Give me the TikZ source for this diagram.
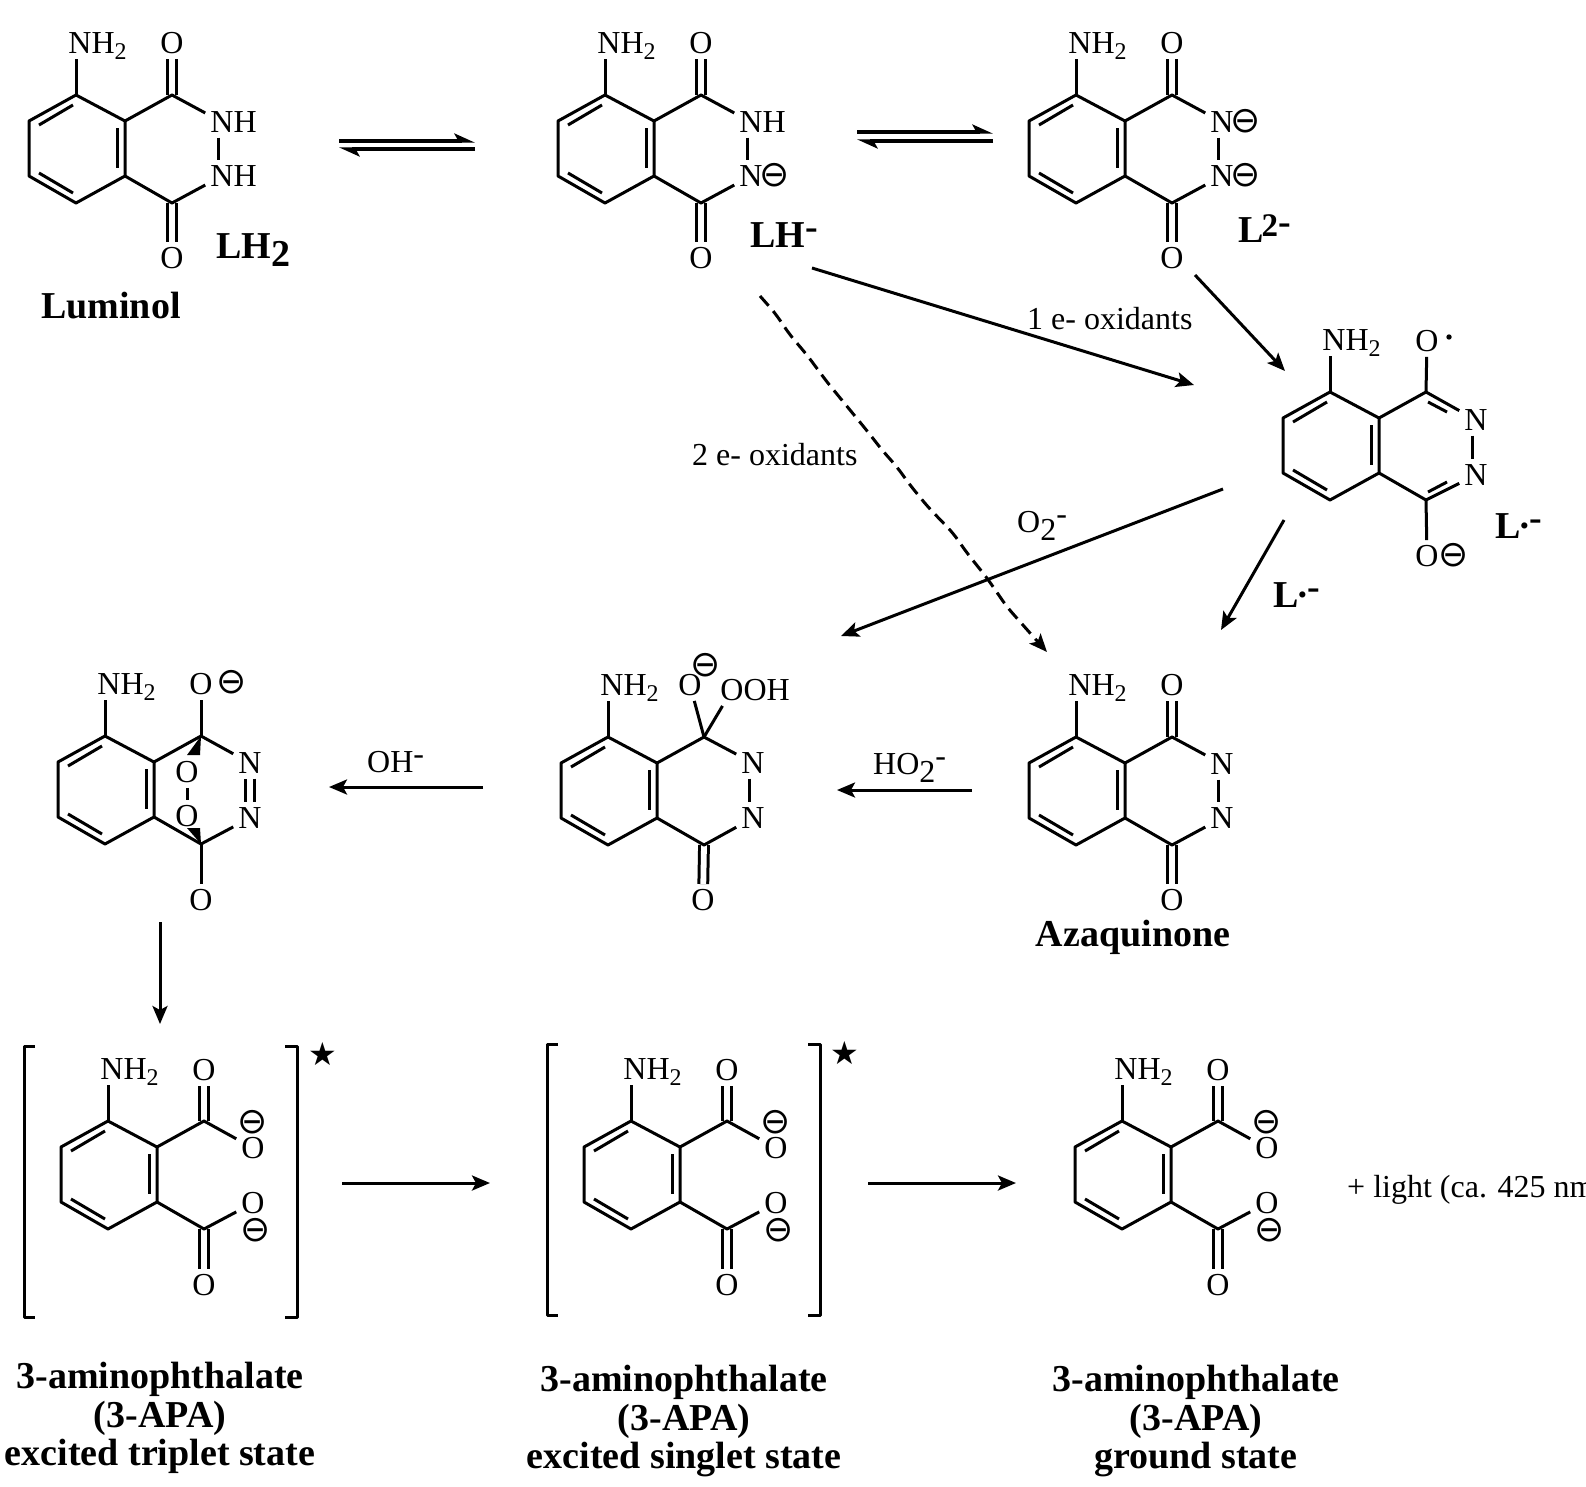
\documentclass[tikz,border=0pt]{standalone}
\usepackage{fontspec}
\setmainfont{Liberation Serif}
\newfontfamily\symf{DejaVu Sans}
\usetikzlibrary{arrows.meta}

\newcommand{\atomfont}{\fontsize{32}{36}\selectfont}
\newcommand{\labfont}{\bfseries\fontsize{38}{38.5}\selectfont}
\newcommand{\atail}[1]{\rlap{\smash{#1}}}
\newcommand{\negc}{{\symf\fontsize{36}{36}\selectfont ⊖}}
\newcommand{\subtwo}{\raisebox{-6pt}{\fontsize{24}{24}\selectfont 2}}
\newcommand{\lowtwo}{\raisebox{-8pt}{2}}
\newcommand{\upm}{\raisebox{8pt}{-}}

\tikzset{
	atom/.style = {inner sep=5pt, font=\atomfont},
	chg/.style = {inner sep=0pt, font=\atomfont},
	txt/.style = {inner sep=0pt, anchor=base west, font=\atomfont},
	lab/.style = {inner sep=0pt, anchor=base west, font=\labfont},
	state/.style = {inner sep=0pt, align=center, font=\labfont},
	bond/.style = {line width=3pt, line join=round},
	dbl/.style = {line width=3pt, double, double distance=5.8pt},
	rxn/.style = {line width=3pt, -{Stealth[length=18pt, width=15pt, inset=4pt]}},
	eqm/.style = {line width=3.2pt, -{Stealth[harpoon, length=17pt, width=15pt, inset=4pt]}},
}

% ring with the amino group, top corner at (#2,#3)
\newcommand{\benzring}[3]{
	\begin{scope}[shift={(#2,#3)}]
		\coordinate (#1-a) at (0,0);
		\coordinate (#1-b) at (-47,26);
		\coordinate (#1-c) at (-47,81);
		\coordinate (#1-d) at (0,108);
		\coordinate (#1-e) at (49,81);
		\coordinate (#1-f) at (49,26);
		\coordinate (#1-c1) at (96,0);
		\coordinate (#1-c2) at (96,108);
		\node[atom] (#1-nh) at (4,-52) {N\atail{H\subtwo}};
		\draw[bond] (#1-a) -- (#1-b) -- (#1-c) -- (#1-d) -- (#1-e) -- (#1-f) -- cycle;
		\draw[bond] (-37,30) -- (-3,10);
		\draw[bond] (-37,78) -- (-3,98);
		\draw[bond] (41,33) -- (41,73);
		\draw[bond] (#1-a) -- (#1-a |- #1-nh.south);
	\end{scope}
}

% two C=O and the N-N bridge
\newcommand{\dione}[5]{
	\benzring{#1}{#2}{#3}
	\begin{scope}[shift={(#2,#3)}]
		\node[atom] (#1-o1) at (96,-52) {O};
		\node[atom] (#1-o2) at (96,163) {O};
		\node[atom] (#1-n1) at (146,27) {N\atail{#4}};
		\node[atom] (#1-n2) at (146,81) {N\atail{#5}};
		\draw[dbl] (#1-c1) -- (#1-o1);
		\draw[dbl] (#1-c2) -- (#1-o2);
		\draw[bond] (#1-f) -- (#1-c1) -- (#1-n1);
		\draw[bond] (#1-e) -- (#1-c2) -- (#1-n2);
		\draw[bond] ([xshift=-4pt]#1-n1.south) -- ([xshift=-4pt]#1-n2.north);
	\end{scope}
}

% phthalate dianion
\newcommand{\apa}[3]{
	\benzring{#1}{#2}{#3}
	\begin{scope}[shift={(#2,#3)}]
		\node[atom] (#1-o1) at (96,-51) {O};
		\node[atom] (#1-o2) at (96,164) {O};
		\node[atom] (#1-o3) at (145,27) {O};
		\node[atom] (#1-o4) at (145,82) {O};
		\node[chg] (#1-q3) at (145,1) {\negc};
		\node[chg] (#1-q4) at (148,109) {\negc};
		\draw[dbl] (#1-c1) -- (#1-o1);
		\draw[dbl] (#1-c2) -- (#1-o2);
		\draw[bond] (#1-f) -- (#1-c1) -- (#1-o3);
		\draw[bond] (#1-e) -- (#1-c2) -- (#1-o4);
	\end{scope}
}

\newcommand{\brackets}[4]{
	\draw[bond] (#1+11,#3) -- (#1,#3) -- (#1,#4) -- (#1+11,#4);
	\draw[bond] (#2-12,#3) -- (#2,#3) -- (#2,#4) -- (#2-12,#4);
}

\begin{document}
\begin{tikzpicture}[x=1pt, y=-1pt]
	\clip (0,0) rectangle (1586,1486);

	% top row
	\dione{lum}{76}{95}{H}{H}
	\dione{lhm}{605}{95}{H}{\kern-3pt\negc}
	\dione{ldm}{1076}{95}{\kern-3pt\negc}{\kern-3pt\negc}
	\node[lab] (lumname) at (41,318) {Luminol};
	\node[lab] (lhtwo) at (216,258) {LH\lowtwo};
	\node[lab] (lhminus) at (750,247) {LH\upm};
	\node[lab] (ltwominus) at (1238,242) {L\kern-2pt\raisebox{6pt}{\fontsize{33}{33}\selectfont 2}\upm};

	% radical anion
	\benzring{rad}{1330}{392}
	\begin{scope}[shift={(1330,392)}]
		\node[atom] (rad-o1) at (97,-51) {O};
		\node[atom] (rad-o2) at (97,164) {O\atail{\negc}};
		\node[atom] (rad-n1) at (146,28) {N};
		\node[atom] (rad-n2) at (146,83) {N};
		\node[circle, fill, inner sep=1.9pt] (rad-dot) at (119,-55) {};
		\draw[bond] (rad-f) -- (rad-c1) -- (rad-n1);
		\draw[bond] (rad-e) -- (rad-c2) -- (rad-n2);
		\draw[bond] (rad-c1) -- (rad-o1);
		\draw[bond] (rad-c2) -- (rad-o2);
		\draw[bond] (98,10) -- (117,20);
		\draw[bond] (98,100) -- (117,90);
		\draw[bond] ([xshift=-4pt]rad-n1.south) -- ([xshift=-4pt]rad-n2.north);
	\end{scope}
	\node[lab] (lrad) at (1495,538) {L\kern-2pt·\kern-2pt\upm};
	\node[lab] (lradb) at (1273,607) {L\kern-2pt·\kern-2pt\upm};

	% middle row
	\dione{aza}{1076}{737}{}{}
	\node[lab, anchor=base] (azaname) at (1133,946) {Azaquinone};

	\benzring{hyd}{608}{737}
	\begin{scope}[shift={(608,737)}]
		\node[atom] (hyd-o1) at (82,-52) {O};
		\node[chg] (hyd-q1) at (98,-72) {\negc};
		\node[atom] (hyd-o3) at (124,-47) {O\atail{OH}};
		\node[atom] (hyd-o2) at (95,163) {O};
		\node[atom] (hyd-n1) at (145,26) {N};
		\node[atom] (hyd-n2) at (145,81) {N};
		\draw[dbl] (hyd-c2) -- (hyd-o2);
		\draw[bond] (hyd-f) -- (hyd-c1) -- (hyd-n1);
		\draw[bond] (hyd-e) -- (hyd-c2) -- (hyd-n2);
		\draw[bond] (hyd-c1) -- (hyd-o1);
		\draw[bond] (hyd-c1) -- (hyd-o3);
		\draw[bond] ([xshift=-4pt]hyd-n1.south) -- ([xshift=-4pt]hyd-n2.north);
	\end{scope}

	\benzring{brg}{105}{736}
	\begin{scope}[shift={(105,736)}]
		\node[atom] (brg-o1) at (96,-52) {O};
		\node[chg] (brg-q1) at (127,-54) {\negc};
		\node[atom] (brg-o2) at (96,164) {O};
		\node[atom] (brg-o3) at (82,36) {O};
		\node[atom] (brg-o4) at (82,80) {O};
		\node[atom] (brg-n1) at (145,27) {N};
		\node[atom] (brg-n2) at (145,82) {N};
		\draw[dbl] (brg-n1) -- (brg-n2);
		\draw[bond] (brg-f) -- (brg-c1) -- (brg-n1);
		\draw[bond] (brg-e) -- (brg-c2) -- (brg-n2);
		\draw[bond] (brg-c1) -- (brg-o1);
		\draw[bond] (brg-c2) -- (brg-o2);
		\draw[bond] (brg-o3) -- (brg-o4);
		\fill (brg-c1) -- (82,19) -- (95,19) -- cycle;
		\fill (brg-c2) -- (82,92) -- (95,92) -- cycle;
	\end{scope}

	% bottom row
	\apa{tri}{108}{1121}
	\apa{sng}{631}{1121}
	\apa{gnd}{1122}{1121}
	\brackets{24}{297}{1046}{1317}
	\brackets{547}{820}{1044}{1315}
	\node[chg] (tristar) at (323,1054) {\symf ★};
	\node[chg] (sngstar) at (845,1053) {\symf ★};
	\node[state] (triname) at (160,1418) {3-aminophthalate\\(3-APA)\\excited triplet state};
	\node[state] (sngname) at (684,1421) {3-aminophthalate\\(3-APA)\\excited singlet state};
	\node[state] (gndname) at (1196,1421) {3-aminophthalate\\(3-APA)\\ground state};
	\node[txt] (light) at (1347,1197) {+ light (ca. 425 nm)};

	% arrow ends
	\coordinate (eqa-l) at (339,141);
	\coordinate (eqa-r) at (475,141);
	\coordinate (eqb-l) at (339,149);
	\coordinate (eqb-r) at (475,149);
	\coordinate (eqc-l) at (857,132);
	\coordinate (eqc-r) at (993,132);
	\coordinate (eqd-l) at (857,141);
	\coordinate (eqd-r) at (993,141);
	\coordinate (one-a) at (812,268);
	\coordinate (one-b) at (1194,385);
	\coordinate (ldm-a) at (1195,275);
	\coordinate (ldm-b) at (1285,371);
	\coordinate (two-a) at (760,296);
	\coordinate (two-b) at (1047,652);
	\coordinate (sup-a) at (1223,489);
	\coordinate (sup-b) at (841,636);
	\coordinate (rad-a) at (1284,520);
	\coordinate (rad-b) at (1221,630);
	\coordinate (hoo-a) at (972,790);
	\coordinate (hoo-b) at (837,790);
	\coordinate (ohm-a) at (483,787);
	\coordinate (ohm-b) at (329,787);
	\coordinate (dwn-a) at (160,922);
	\coordinate (dwn-b) at (160,1024);
	\coordinate (exa-a) at (342,1183);
	\coordinate (exa-b) at (490,1183);
	\coordinate (exb-a) at (868,1183);
	\coordinate (exb-b) at (1016,1183);

	\draw[eqm] (eqa-l) -- (eqa-r);
	\draw[eqm] (eqb-r) -- (eqb-l);
	\draw[eqm] (eqc-l) -- (eqc-r);
	\draw[eqm] (eqd-r) -- (eqd-l);
	\draw[rxn] (one-a) -- (one-b);
	\draw[rxn] (ldm-a) -- (ldm-b);
	\draw[rxn, rounded corners=8pt, dash pattern=on 13pt off 7pt] (two-a) -- (775,313) -- (790,335) -- (807,355) -- (827,382) -- (850,410) -- (868,432) -- (882,450) -- (897,467) -- (910,485) -- (928,507) -- (953,533) -- (967,553) -- (987,578) -- (1007,607) -- (1030,633) -- (two-b);
	\draw[rxn] (sup-a) -- (sup-b);
	\draw[rxn] (rad-a) -- (rad-b);
	\draw[rxn] (hoo-a) -- (hoo-b);
	\draw[rxn] (ohm-a) -- (ohm-b);
	\draw[rxn] (dwn-a) -- (dwn-b);
	\draw[rxn] (exa-a) -- (exa-b);
	\draw[rxn] (exb-a) -- (exb-b);

	% arrow labels
	\node[txt] (onelab) at (1027,329) {1 e- oxidants};
	\node[txt] (twolab) at (692,465) {2 e- oxidants};
	\node[txt] (suplab) at (1017,532) {O\lowtwo\upm};
	\node[txt] (hoolab) at (873,774) {HO\lowtwo\upm};
	\node[txt] (ohmlab) at (367,772) {OH\upm};
\end{tikzpicture}
\end{document}
